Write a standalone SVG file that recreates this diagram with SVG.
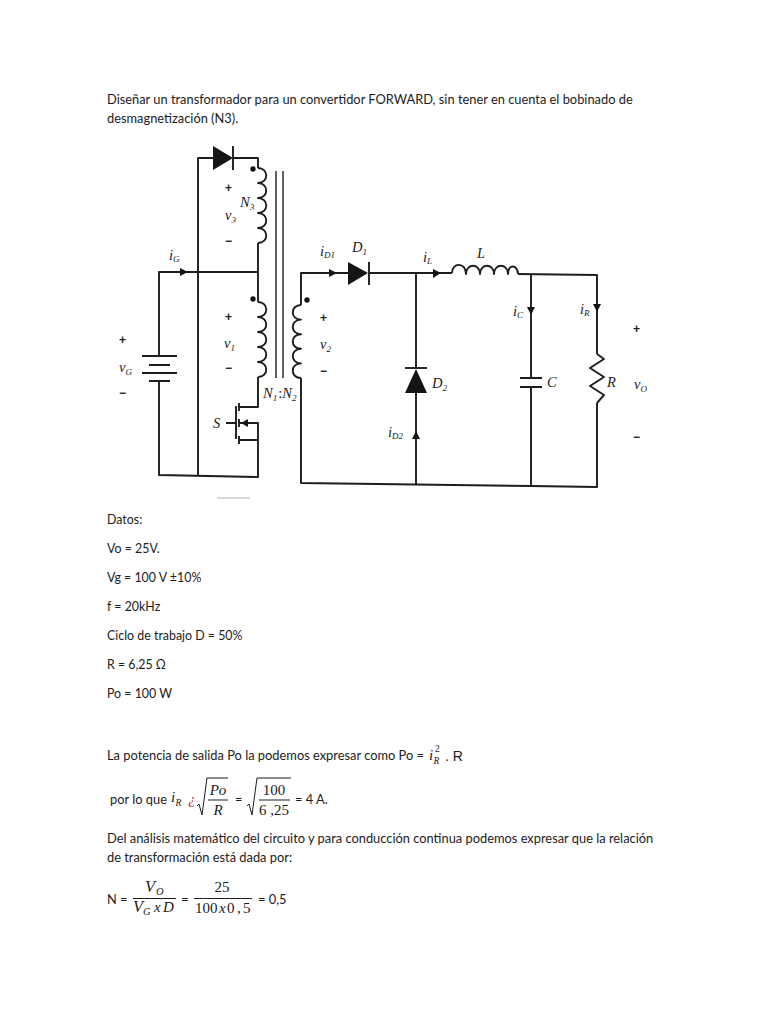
<svg xmlns="http://www.w3.org/2000/svg" width="768" height="1024" viewBox="0 0 768 1024">
<style>
.t{font-family:Lato,"Liberation Sans",sans-serif;font-size:12.85px;fill:#1c1c1c}
.d{font-size:12.4px}
.w{fill:none;stroke:#1d1d1d;stroke-width:1.9;stroke-linejoin:round}
.f{fill:#151515;stroke:none}
.l{font-family:"Liberation Serif",serif;font-style:italic;font-size:14.5px;fill:#222}
.s{font-size:9px}
.p{font-family:"Liberation Sans",sans-serif;font-weight:bold;font-size:12px;fill:#222}
.m{font-family:"Liberation Serif",serif;font-size:15px;fill:#1c1c1c}
.m9{font-size:9.5px}
.m10{font-size:10.5px}
.v{font-size:16.5px}
.i{font-style:italic}
.b{fill:none;stroke:#1c1c1c;stroke-width:1}
</style>
<rect width="768" height="1024" fill="#fff"/>
<g id="text-intro">
<text class="t" x="107" y="104">Diseñar un transformador para un convertidor FORWARD, sin tener en cuenta el bobinado de</text>
<text class="t" x="107" y="123">desmagnetización (N3).</text>
</g>
<g id="connectors">
<path class="w" d="M198 475V158H213M233 158H258V168"/>
<path class="w" d="M258 243V272H159V356M159 381V475L258 477V423H239"/>
<path class="w" d="M258 272V302"/>
<path class="w" d="M258 377V407H239M258 440H239M236 423H226"/>
<path class="w" d="M301 305V273H348M369 273H452M518 274L597 275V354M597 403V487L531 486L301 483V378"/>
<path class="w" d="M416 273V368M416 393V484M531 275V378M531 387V486"/>
</g>
<g id="core"><path class="w" d="M276 171V378M283 171V378" style="stroke-width:1.4"/></g>
<g id="winding-n3"><circle class="f" cx="253" cy="169" r="2.7"/>
<path class="w" d="M258 168c11 0 11 15 0 15c11 0 11 15 0 15c11 0 11 15 0 15c11 0 11 15 0 15c11 0 11 15 0 15"/></g>
<g id="winding-n1"><circle class="f" cx="253" cy="299" r="2.7"/>
<path class="w" d="M258 302c11 0 11 15 0 15c11 0 11 15 0 15c11 0 11 15 0 15c11 0 11 15 0 15c11 0 11 15 0 15"/></g>
<g id="winding-n2"><circle class="f" cx="307" cy="300" r="2.7"/>
<path class="w" d="M301 305c-11 0-11 14.600 0 14.600c-11 0-11 14.600 0 14.600c-11 0-11 14.600 0 14.600c-11 0-11 14.600 0 14.600c-11 0-11 14.600 0 14.600"/></g>
<g id="diode-d3"><path class="f" d="M213 146V170L233 158Z"/><path class="w" d="M233 146V170"/></g>
<g id="diode-d1"><path class="f" d="M348 262V285L368 273Z"/><path class="w" d="M369 262V285"/></g>
<g id="diode-d2"><path class="f" d="M416 369L405 393H427Z"/><path class="w" d="M405 368H427"/></g>
<g id="inductor-l"><path class="w" d="M452 273c0-11 14-11 14 1c0-11 14-11 14 0c0-11 14-11 14 0c0-11 14-11 14 0c0-11 10-9 10 0"/></g>
<g id="capacitor-c"><path class="w" d="M520 378H542M520 387H542"/></g>
<g id="resistor-r"><path class="w" d="M597 354L604 359L590 368L604 377L590 386L604 395L597 403"/></g>
<g id="battery"><path class="w" d="M142 356H177M149 365H170M142 373H177M149 381H170"/></g>
<g id="switch-s"><path class="w" d="M236 406V439M239 403V411M239 419V427M239 436V444"/><path class="f" d="M241 423L248 419V427Z"/></g>
<g id="arrows">
<path class="f" d="M180 268V276L188 272Z"/><path class="f" d="M329 269V277L337 273Z"/><path class="f" d="M433 269V278L441 273Z"/>
<path class="f" d="M527 307H535L531 315Z"/><path class="f" d="M593 304H601L597 312Z"/><path class="f" d="M412 439H420L416 431Z"/>
</g>
<g id="labels">
<text class="l" x="169" y="260">i<tspan class="s" dy="2">G</tspan></text>
<text class="l" x="240" y="207">N<tspan class="s" dy="3">3</tspan></text>
<text class="l" x="225" y="220">v<tspan class="s" dy="3">3</tspan></text>
<text class="l" x="224" y="348">v<tspan class="s" dy="3">1</tspan></text>
<text class="p" x="225" y="192">+</text><text class="p" x="225" y="245">−</text>
<text class="p" x="225" y="321">+</text><text class="p" x="225" y="372">−</text>
<text class="p" x="119" y="344">+</text><text class="p" x="119" y="397">−</text>
<text class="l" x="119" y="372">v<tspan class="s" dy="3">G</tspan></text>
<text class="l" x="213" y="428">S</text>
<text class="l" x="263" y="398">N<tspan class="s" dy="3">1</tspan><tspan dx="1" dy="-3" style="font-style:normal">:</tspan>N<tspan class="s" dy="3">2</tspan></text>
<text class="p" x="320" y="322">+</text><text class="p" x="320" y="375">−</text>
<text class="l" x="320" y="349">v<tspan class="s" dy="3">2</tspan></text>
<text class="l" x="320" y="256">i<tspan class="s" dy="2">D1</tspan></text>
<text class="l" x="352" y="252">D<tspan class="s" dy="3">1</tspan></text>
<text class="l" x="423" y="262">i<tspan class="s" dy="2">L</tspan></text>
<text class="l" x="477" y="258">L</text>
<text class="l" x="432" y="388">D<tspan class="s" dy="3">2</tspan></text>
<text class="l" x="388" y="437">i<tspan class="s" dy="2">D2</tspan></text>
<text class="l" x="513" y="316">i<tspan class="s" dy="2">C</tspan></text>
<text class="l" x="547" y="387">C</text>
<text class="l" x="580" y="314">i<tspan class="s" dy="2">R</tspan></text>
<text class="l" x="607" y="387">R</text>
<text class="l" x="634" y="389">v<tspan class="s" dy="3">O</tspan></text>
<text class="p" x="633" y="333">+</text><text class="p" x="633" y="441">−</text>
</g>
<path id="scan-mark" d="M217 498H250" stroke="#ccc" stroke-width="1.5" fill="none"/>
<g id="text-data">
<text class="t d" x="107" y="524">Datos:</text>
<text class="t d" x="107" y="553">Vo = 25V.</text>
<text class="t d" x="107" y="582">Vg = 100 V ±10%</text>
<text class="t d" x="107" y="611">f = 20kHz</text>
<text class="t d" x="107" y="640">Ciclo de trabajo D = 50%</text>
<text class="t d" x="107" y="669">R = 6,25 Ω</text>
<text class="t d" x="107" y="698">Po = 100 W</text>
</g>
<g id="text-power">
<text class="t" x="107" y="760">La potencia de salida Po la podemos expresar como Po =</text>
<text class="m i" x="429" y="760">i</text><text class="m i m9" x="433.500" y="764">R</text><text class="m m9" x="435" y="752">2</text>
<text x="445" y="761" font-family="Liberation Sans,sans-serif" font-size="14" fill="#1c1c1c">. R</text>
<text class="t" x="110" y="804">por lo que</text>
<text class="m i" x="171" y="802">i</text><text class="m i m9" x="175.500" y="806">R</text>
<text x="188" y="804" font-family="Liberation Serif,serif" font-size="15" font-style="italic" fill="#c0282d">¿</text>
<path class="b" d="M197 806L199 804L202 815L207 778H228"/>
<text class="m i" x="218" y="795" text-anchor="middle">Po</text>
<path class="b" d="M208 800H228"/>
<text class="m i" x="218" y="815" text-anchor="middle">R</text>
<text class="t" x="235" y="804">=</text>
<path class="b" d="M247 806L249 804L252 815L257 778H291"/>
<text class="m" x="274" y="795" text-anchor="middle">100</text>
<path class="b" d="M259 800H290"/>
<text class="m" x="274" y="815" text-anchor="middle">6 ,25</text>
<text class="t" x="295" y="804">= 4 A.</text>
</g>
<g id="text-analysis">
<text class="t" x="107" y="843">Del análisis matemático del circuito y para conducción continua podemos expresar que la relación</text>
<text class="t" x="107" y="862">de transformación está dada por:</text>
</g>
<g id="text-ratio">
<text class="t" x="107" y="904">N =</text>
<text class="m i v" x="145" y="892">V</text><text class="m i m10" x="156" y="895">O</text>
<path class="b" d="M133 898.500H176"/>
<text class="m i v" x="133" y="912">V</text><text class="m i m10" x="143" y="915">G</text><text class="m i" x="154" y="912">x</text><text class="m i" x="163" y="912">D</text>
<text class="t" x="181" y="904">=</text>
<text class="m" x="222" y="892" text-anchor="middle">25</text>
<path class="b" d="M194 898.500H252"/>
<text class="m" x="195" y="913">100</text><text class="m i" x="219" y="913">x</text><text class="m" x="227" y="913">0</text><text class="m" x="237" y="913">,</text><text class="m" x="243" y="913">5</text>
<text class="t" x="258" y="904">= 0,5</text>
</g>
</svg>
